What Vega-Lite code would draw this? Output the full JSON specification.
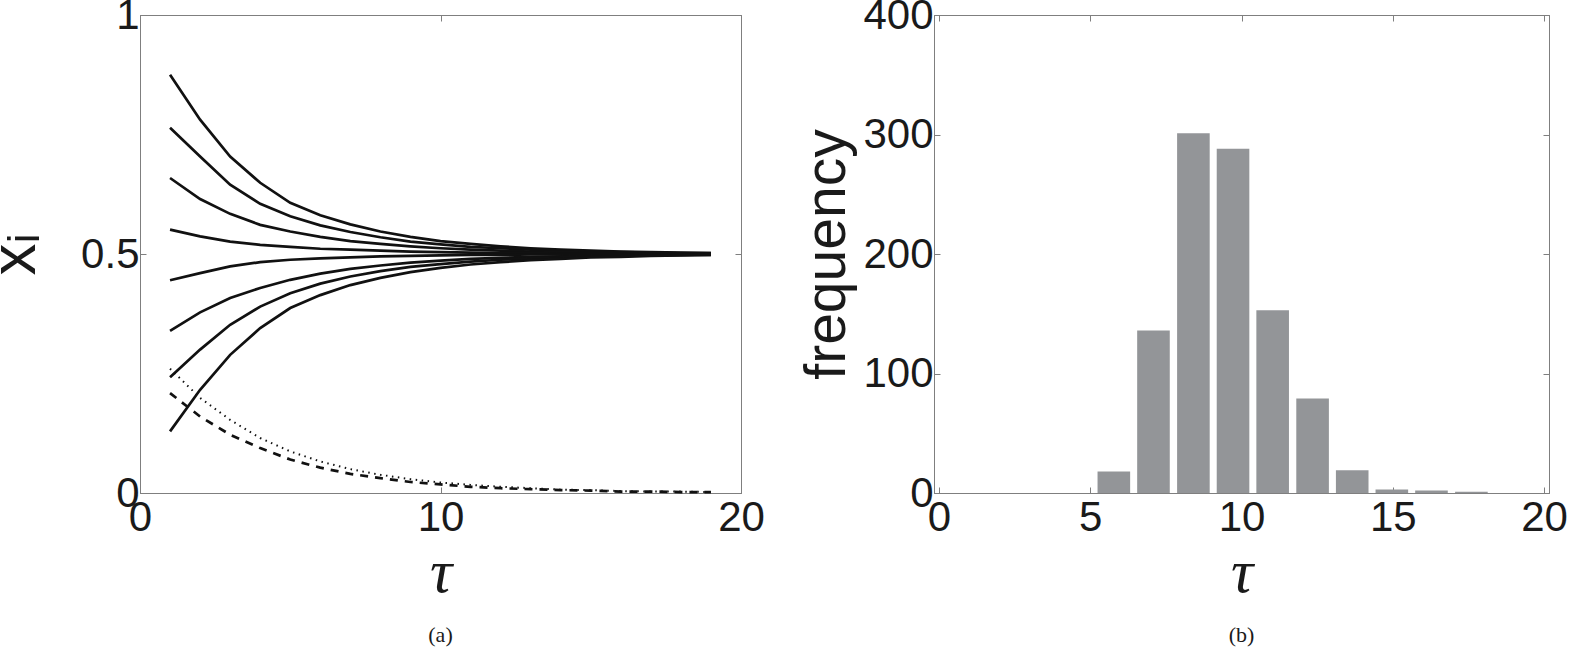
{
  "$schema": "https://vega.github.io/schema/vega-lite/v6.json",
  "background": "white",
  "padding": {"left": -17, "top": -7, "right": 0, "bottom": 0},
  "bounds": "flush",
  "spacing": 193,
  "config": {
    "view": {"stroke": "#7f7f7f", "strokeWidth": 1},
    "axis": {
      "grid": false,
      "domainColor": "#7f7f7f",
      "tickColor": "#7f7f7f",
      "tickSize": -6,
      "labelFlush": false,
      "labelOverlap": false,
      "labelFont": "Liberation Sans",
      "labelFontSize": 42,
      "labelColor": "#1a1a1a",
      "titleColor": "#1a1a1a",
      "titleFontWeight": "normal"
    },
    "title": {"font": "Liberation Serif", "fontSize": 22, "fontWeight": "normal", "color": "#1a1a1a"}
  },
  "datasets": {
    "traj": [
      {"series": "L1", "kind": "solid", "tau": 1, "x": 0.875}, {"series": "L1", "kind": "solid", "tau": 2, "x": 0.781}, {"series": "L1", "kind": "solid", "tau": 3, "x": 0.704}, {"series": "L1", "kind": "solid", "tau": 4, "x": 0.649}, {"series": "L1", "kind": "solid", "tau": 5, "x": 0.607}, {"series": "L1", "kind": "solid", "tau": 6, "x": 0.581}, {"series": "L1", "kind": "solid", "tau": 7, "x": 0.562}, {"series": "L1", "kind": "solid", "tau": 8, "x": 0.547}, {"series": "L1", "kind": "solid", "tau": 9, "x": 0.536}, {"series": "L1", "kind": "solid", "tau": 10, "x": 0.527}, {"series": "L1", "kind": "solid", "tau": 11, "x": 0.521}, {"series": "L1", "kind": "solid", "tau": 12, "x": 0.516}, {"series": "L1", "kind": "solid", "tau": 13, "x": 0.512}, {"series": "L1", "kind": "solid", "tau": 14, "x": 0.509}, {"series": "L1", "kind": "solid", "tau": 15, "x": 0.507}, {"series": "L1", "kind": "solid", "tau": 16, "x": 0.505}, {"series": "L1", "kind": "solid", "tau": 17, "x": 0.504}, {"series": "L1", "kind": "solid", "tau": 18, "x": 0.503}, {"series": "L1", "kind": "solid", "tau": 19, "x": 0.502},
      {"series": "L2", "kind": "solid", "tau": 1, "x": 0.764}, {"series": "L2", "kind": "solid", "tau": 2, "x": 0.704}, {"series": "L2", "kind": "solid", "tau": 3, "x": 0.645}, {"series": "L2", "kind": "solid", "tau": 4, "x": 0.605}, {"series": "L2", "kind": "solid", "tau": 5, "x": 0.579}, {"series": "L2", "kind": "solid", "tau": 6, "x": 0.560}, {"series": "L2", "kind": "solid", "tau": 7, "x": 0.546}, {"series": "L2", "kind": "solid", "tau": 8, "x": 0.535}, {"series": "L2", "kind": "solid", "tau": 9, "x": 0.526}, {"series": "L2", "kind": "solid", "tau": 10, "x": 0.520}, {"series": "L2", "kind": "solid", "tau": 11, "x": 0.515}, {"series": "L2", "kind": "solid", "tau": 12, "x": 0.512}, {"series": "L2", "kind": "solid", "tau": 13, "x": 0.509}, {"series": "L2", "kind": "solid", "tau": 14, "x": 0.507}, {"series": "L2", "kind": "solid", "tau": 15, "x": 0.505}, {"series": "L2", "kind": "solid", "tau": 16, "x": 0.504}, {"series": "L2", "kind": "solid", "tau": 17, "x": 0.503}, {"series": "L2", "kind": "solid", "tau": 18, "x": 0.502}, {"series": "L2", "kind": "solid", "tau": 19, "x": 0.502},
      {"series": "L3", "kind": "solid", "tau": 1, "x": 0.659}, {"series": "L3", "kind": "solid", "tau": 2, "x": 0.615}, {"series": "L3", "kind": "solid", "tau": 3, "x": 0.584}, {"series": "L3", "kind": "solid", "tau": 4, "x": 0.561}, {"series": "L3", "kind": "solid", "tau": 5, "x": 0.547}, {"series": "L3", "kind": "solid", "tau": 6, "x": 0.536}, {"series": "L3", "kind": "solid", "tau": 7, "x": 0.527}, {"series": "L3", "kind": "solid", "tau": 8, "x": 0.521}, {"series": "L3", "kind": "solid", "tau": 9, "x": 0.516}, {"series": "L3", "kind": "solid", "tau": 10, "x": 0.512}, {"series": "L3", "kind": "solid", "tau": 11, "x": 0.509}, {"series": "L3", "kind": "solid", "tau": 12, "x": 0.507}, {"series": "L3", "kind": "solid", "tau": 13, "x": 0.505}, {"series": "L3", "kind": "solid", "tau": 14, "x": 0.504}, {"series": "L3", "kind": "solid", "tau": 15, "x": 0.503}, {"series": "L3", "kind": "solid", "tau": 16, "x": 0.502}, {"series": "L3", "kind": "solid", "tau": 17, "x": 0.502}, {"series": "L3", "kind": "solid", "tau": 18, "x": 0.501}, {"series": "L3", "kind": "solid", "tau": 19, "x": 0.501},
      {"series": "L4", "kind": "solid", "tau": 1, "x": 0.551}, {"series": "L4", "kind": "solid", "tau": 2, "x": 0.537}, {"series": "L4", "kind": "solid", "tau": 3, "x": 0.526}, {"series": "L4", "kind": "solid", "tau": 4, "x": 0.519}, {"series": "L4", "kind": "solid", "tau": 5, "x": 0.515}, {"series": "L4", "kind": "solid", "tau": 6, "x": 0.511}, {"series": "L4", "kind": "solid", "tau": 7, "x": 0.509}, {"series": "L4", "kind": "solid", "tau": 8, "x": 0.507}, {"series": "L4", "kind": "solid", "tau": 9, "x": 0.505}, {"series": "L4", "kind": "solid", "tau": 10, "x": 0.504}, {"series": "L4", "kind": "solid", "tau": 11, "x": 0.503}, {"series": "L4", "kind": "solid", "tau": 12, "x": 0.502}, {"series": "L4", "kind": "solid", "tau": 13, "x": 0.502}, {"series": "L4", "kind": "solid", "tau": 14, "x": 0.501}, {"series": "L4", "kind": "solid", "tau": 15, "x": 0.501}, {"series": "L4", "kind": "solid", "tau": 16, "x": 0.501}, {"series": "L4", "kind": "solid", "tau": 17, "x": 0.501}, {"series": "L4", "kind": "solid", "tau": 18, "x": 0.500}, {"series": "L4", "kind": "solid", "tau": 19, "x": 0.500},
      {"series": "L5", "kind": "solid", "tau": 1, "x": 0.445}, {"series": "L5", "kind": "solid", "tau": 2, "x": 0.460}, {"series": "L5", "kind": "solid", "tau": 3, "x": 0.474}, {"series": "L5", "kind": "solid", "tau": 4, "x": 0.483}, {"series": "L5", "kind": "solid", "tau": 5, "x": 0.488}, {"series": "L5", "kind": "solid", "tau": 6, "x": 0.491}, {"series": "L5", "kind": "solid", "tau": 7, "x": 0.493}, {"series": "L5", "kind": "solid", "tau": 8, "x": 0.495}, {"series": "L5", "kind": "solid", "tau": 9, "x": 0.496}, {"series": "L5", "kind": "solid", "tau": 10, "x": 0.497}, {"series": "L5", "kind": "solid", "tau": 11, "x": 0.498}, {"series": "L5", "kind": "solid", "tau": 12, "x": 0.498}, {"series": "L5", "kind": "solid", "tau": 13, "x": 0.499}, {"series": "L5", "kind": "solid", "tau": 14, "x": 0.499}, {"series": "L5", "kind": "solid", "tau": 15, "x": 0.499}, {"series": "L5", "kind": "solid", "tau": 16, "x": 0.499}, {"series": "L5", "kind": "solid", "tau": 17, "x": 0.500}, {"series": "L5", "kind": "solid", "tau": 18, "x": 0.500}, {"series": "L5", "kind": "solid", "tau": 19, "x": 0.500},
      {"series": "L6", "kind": "solid", "tau": 1, "x": 0.339}, {"series": "L6", "kind": "solid", "tau": 2, "x": 0.378}, {"series": "L6", "kind": "solid", "tau": 3, "x": 0.408}, {"series": "L6", "kind": "solid", "tau": 4, "x": 0.429}, {"series": "L6", "kind": "solid", "tau": 5, "x": 0.446}, {"series": "L6", "kind": "solid", "tau": 6, "x": 0.459}, {"series": "L6", "kind": "solid", "tau": 7, "x": 0.469}, {"series": "L6", "kind": "solid", "tau": 8, "x": 0.476}, {"series": "L6", "kind": "solid", "tau": 9, "x": 0.482}, {"series": "L6", "kind": "solid", "tau": 10, "x": 0.486}, {"series": "L6", "kind": "solid", "tau": 11, "x": 0.490}, {"series": "L6", "kind": "solid", "tau": 12, "x": 0.492}, {"series": "L6", "kind": "solid", "tau": 13, "x": 0.494}, {"series": "L6", "kind": "solid", "tau": 14, "x": 0.495}, {"series": "L6", "kind": "solid", "tau": 15, "x": 0.497}, {"series": "L6", "kind": "solid", "tau": 16, "x": 0.497}, {"series": "L6", "kind": "solid", "tau": 17, "x": 0.498}, {"series": "L6", "kind": "solid", "tau": 18, "x": 0.498}, {"series": "L6", "kind": "solid", "tau": 19, "x": 0.499},
      {"series": "L7", "kind": "solid", "tau": 1, "x": 0.242}, {"series": "L7", "kind": "solid", "tau": 2, "x": 0.300}, {"series": "L7", "kind": "solid", "tau": 3, "x": 0.352}, {"series": "L7", "kind": "solid", "tau": 4, "x": 0.390}, {"series": "L7", "kind": "solid", "tau": 5, "x": 0.418}, {"series": "L7", "kind": "solid", "tau": 6, "x": 0.438}, {"series": "L7", "kind": "solid", "tau": 7, "x": 0.453}, {"series": "L7", "kind": "solid", "tau": 8, "x": 0.464}, {"series": "L7", "kind": "solid", "tau": 9, "x": 0.473}, {"series": "L7", "kind": "solid", "tau": 10, "x": 0.479}, {"series": "L7", "kind": "solid", "tau": 11, "x": 0.484}, {"series": "L7", "kind": "solid", "tau": 12, "x": 0.488}, {"series": "L7", "kind": "solid", "tau": 13, "x": 0.491}, {"series": "L7", "kind": "solid", "tau": 14, "x": 0.493}, {"series": "L7", "kind": "solid", "tau": 15, "x": 0.495}, {"series": "L7", "kind": "solid", "tau": 16, "x": 0.496}, {"series": "L7", "kind": "solid", "tau": 17, "x": 0.497}, {"series": "L7", "kind": "solid", "tau": 18, "x": 0.498}, {"series": "L7", "kind": "solid", "tau": 19, "x": 0.498},
      {"series": "L8", "kind": "solid", "tau": 1, "x": 0.129}, {"series": "L8", "kind": "solid", "tau": 2, "x": 0.216}, {"series": "L8", "kind": "solid", "tau": 3, "x": 0.289}, {"series": "L8", "kind": "solid", "tau": 4, "x": 0.345}, {"series": "L8", "kind": "solid", "tau": 5, "x": 0.387}, {"series": "L8", "kind": "solid", "tau": 6, "x": 0.414}, {"series": "L8", "kind": "solid", "tau": 7, "x": 0.435}, {"series": "L8", "kind": "solid", "tau": 8, "x": 0.450}, {"series": "L8", "kind": "solid", "tau": 9, "x": 0.462}, {"series": "L8", "kind": "solid", "tau": 10, "x": 0.471}, {"series": "L8", "kind": "solid", "tau": 11, "x": 0.478}, {"series": "L8", "kind": "solid", "tau": 12, "x": 0.483}, {"series": "L8", "kind": "solid", "tau": 13, "x": 0.487}, {"series": "L8", "kind": "solid", "tau": 14, "x": 0.490}, {"series": "L8", "kind": "solid", "tau": 15, "x": 0.493}, {"series": "L8", "kind": "solid", "tau": 16, "x": 0.494}, {"series": "L8", "kind": "solid", "tau": 17, "x": 0.496}, {"series": "L8", "kind": "solid", "tau": 18, "x": 0.497}, {"series": "L8", "kind": "solid", "tau": 19, "x": 0.498},
      {"series": "D1", "kind": "dotted", "tau": 1, "x": 0.260}, {"series": "D1", "kind": "dotted", "tau": 2, "x": 0.199}, {"series": "D1", "kind": "dotted", "tau": 3, "x": 0.153}, {"series": "D1", "kind": "dotted", "tau": 4, "x": 0.115}, {"series": "D1", "kind": "dotted", "tau": 5, "x": 0.087}, {"series": "D1", "kind": "dotted", "tau": 6, "x": 0.066}, {"series": "D1", "kind": "dotted", "tau": 7, "x": 0.050}, {"series": "D1", "kind": "dotted", "tau": 8, "x": 0.038}, {"series": "D1", "kind": "dotted", "tau": 9, "x": 0.029}, {"series": "D1", "kind": "dotted", "tau": 10, "x": 0.022}, {"series": "D1", "kind": "dotted", "tau": 11, "x": 0.017}, {"series": "D1", "kind": "dotted", "tau": 12, "x": 0.013}, {"series": "D1", "kind": "dotted", "tau": 13, "x": 0.010}, {"series": "D1", "kind": "dotted", "tau": 14, "x": 0.007}, {"series": "D1", "kind": "dotted", "tau": 15, "x": 0.006}, {"series": "D1", "kind": "dotted", "tau": 16, "x": 0.004}, {"series": "D1", "kind": "dotted", "tau": 17, "x": 0.003}, {"series": "D1", "kind": "dotted", "tau": 18, "x": 0.003}, {"series": "D1", "kind": "dotted", "tau": 19, "x": 0.002},
      {"series": "D2", "kind": "dashed", "tau": 1, "x": 0.209}, {"series": "D2", "kind": "dashed", "tau": 2, "x": 0.160}, {"series": "D2", "kind": "dashed", "tau": 3, "x": 0.122}, {"series": "D2", "kind": "dashed", "tau": 4, "x": 0.094}, {"series": "D2", "kind": "dashed", "tau": 5, "x": 0.070}, {"series": "D2", "kind": "dashed", "tau": 6, "x": 0.053}, {"series": "D2", "kind": "dashed", "tau": 7, "x": 0.040}, {"series": "D2", "kind": "dashed", "tau": 8, "x": 0.031}, {"series": "D2", "kind": "dashed", "tau": 9, "x": 0.023}, {"series": "D2", "kind": "dashed", "tau": 10, "x": 0.018}, {"series": "D2", "kind": "dashed", "tau": 11, "x": 0.013}, {"series": "D2", "kind": "dashed", "tau": 12, "x": 0.010}, {"series": "D2", "kind": "dashed", "tau": 13, "x": 0.008}, {"series": "D2", "kind": "dashed", "tau": 14, "x": 0.006}, {"series": "D2", "kind": "dashed", "tau": 15, "x": 0.005}, {"series": "D2", "kind": "dashed", "tau": 16, "x": 0.003}, {"series": "D2", "kind": "dashed", "tau": 17, "x": 0.003}, {"series": "D2", "kind": "dashed", "tau": 18, "x": 0.002}, {"series": "D2", "kind": "dashed", "tau": 19, "x": 0.002}
    ],
    "hist": [
      {"tau": 5.78, "frequency": 18},
      {"tau": 7.09, "frequency": 136},
      {"tau": 8.41, "frequency": 301},
      {"tau": 9.72, "frequency": 288},
      {"tau": 11.03, "frequency": 153},
      {"tau": 12.35, "frequency": 79},
      {"tau": 13.66, "frequency": 19},
      {"tau": 14.97, "frequency": 3},
      {"tau": 16.28, "frequency": 2},
      {"tau": 17.6, "frequency": 1}
    ]
  },
  "hconcat": [
    {
      "width": 601,
      "height": 478,
      "title": {"text": "(a)", "orient": "bottom", "offset": 22},
      "data": {"name": "traj"},
      "resolve": {"axis": {"x": "independent", "y": "independent"}},
      "layer": [
        {
          "transform": [{"filter": "datum.kind === 'solid'"}],
          "mark": {"type": "line", "color": "#111111", "strokeWidth": 2.7, "clip": true},
          "encoding": {
            "x": {"field": "tau", "type": "quantitative", "scale": {"domain": [0, 20], "nice": false},
              "axis": {"orient": "bottom", "values": [0, 10, 20], "labelPadding": 10, "title": "τ", "titleFont": "Liberation Serif", "titleFontStyle": "italic", "titleFontSize": 62, "titlePadding": 4}},
            "y": {"field": "x", "type": "quantitative", "scale": {"domain": [0, 1], "nice": false},
              "axis": {"orient": "left", "values": [0, 0.5, 1], "format": "~g", "labelPadding": 7, "title": "xᵢ", "titleFont": "Liberation Sans", "titleFontSize": 64, "titlePadding": 33}},
            "detail": {"field": "series"}
          }
        },
        {
          "transform": [{"filter": "datum.kind === 'dotted'"}],
          "mark": {"type": "line", "color": "#111111", "strokeWidth": 2, "strokeDash": [1.5, 4.5]},
          "encoding": {
            "x": {"field": "tau", "type": "quantitative", "axis": {"orient": "top", "values": [0, 10, 20], "labels": false, "title": null}},
            "y": {"field": "x", "type": "quantitative", "axis": {"orient": "right", "values": [0, 0.5, 1], "labels": false, "title": null}}
          }
        },
        {
          "transform": [{"filter": "datum.kind === 'dashed'"}],
          "mark": {"type": "line", "color": "#111111", "strokeWidth": 2.7, "strokeDash": [8, 7]},
          "encoding": {
            "x": {"field": "tau", "type": "quantitative", "axis": null},
            "y": {"field": "x", "type": "quantitative", "axis": null}
          }
        }
      ]
    },
    {
      "width": 615,
      "height": 478,
      "title": {"text": "(b)", "orient": "bottom", "offset": 22},
      "data": {"name": "hist"},
      "resolve": {"axis": {"x": "independent", "y": "independent"}},
      "layer": [
        {
          "mark": {"type": "bar", "color": "#939598", "width": 32.6},
          "encoding": {
            "x": {"field": "tau", "type": "quantitative", "scale": {"domain": [0, 20], "nice": false},
              "axis": {"orient": "bottom", "values": [0, 5, 10, 15, 20], "labelPadding": 10, "title": "τ", "titleFont": "Liberation Serif", "titleFontStyle": "italic", "titleFontSize": 62, "titlePadding": 4}},
            "y": {"field": "frequency", "type": "quantitative", "scale": {"domain": [0, 400], "nice": false},
              "axis": {"orient": "left", "values": [0, 100, 200, 300, 400], "labelPadding": 7, "title": "frequency", "titleFont": "Liberation Sans", "titleFontSize": 57, "titlePadding": 6}}
          }
        },
        {
          "mark": {"type": "point", "opacity": 0},
          "encoding": {
            "x": {"field": "tau", "type": "quantitative", "axis": {"orient": "top", "values": [0, 5, 10, 15, 20], "labels": false, "title": null}},
            "y": {"field": "frequency", "type": "quantitative", "axis": {"orient": "right", "values": [0, 100, 200, 300, 400], "labels": false, "title": null}}
          }
        }
      ]
    }
  ]
}
